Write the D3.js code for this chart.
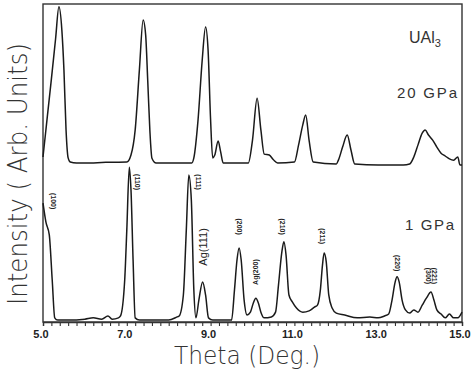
<!DOCTYPE html>
<html>
<head>
<meta charset="utf-8">
<script src="https://cdn.jsdelivr.net/npm/d3@7"></script>
<style>
  body { margin: 0; background: #fff; }
  svg { display: block; }
  .curve { fill: none; stroke: #1a1a1a; stroke-width: 1.5; stroke-linejoin: round; }
  .frame { fill: none; stroke: #333; stroke-width: 1.4; }
</style>
</head>
<body>
<svg id="chart" width="474" height="372"></svg>
<script>
// 20 GPa pattern: [theta, intensity (arb.)]
const highPressure = [
  [5.0, 51.9], [5.1, 64.2], [5.2, 76.4], [5.3, 89.0], [5.38, 99.1], [5.45, 91.8],
  [5.5, 79.2], [5.55, 60.4], [5.6, 51.6], [5.65, 50.3], [5.8, 50.0], [6.0, 50.0],
  [6.5, 50.2], [7.0, 50.3], [7.1, 52.5], [7.2, 60.4], [7.3, 79.2], [7.39, 95.0],
  [7.45, 90.3], [7.5, 75.8], [7.55, 60.4], [7.6, 51.5], [7.7, 50.0], [8.0, 50.0],
  [8.55, 50.0], [8.6, 51.6], [8.7, 63.5], [8.8, 82.4], [8.88, 92.8], [8.94, 85.5],
  [9.0, 63.5], [9.05, 51.6], [9.1, 52.5], [9.18, 56.9], [9.24, 53.5], [9.3, 50.0],
  [9.8, 50.0], [9.9, 50.0], [10.0, 57.2], [10.11, 70.4], [10.2, 60.4], [10.28, 52.8],
  [10.4, 52.5], [10.5, 51.0], [10.6, 50.0], [11.0, 50.3], [11.1, 55.7], [11.2, 62.0],
  [11.27, 65.1], [11.35, 57.2], [11.45, 50.3], [12.0, 49.7], [12.05, 50.9], [12.15, 55.0],
  [12.26, 58.8], [12.35, 54.1], [12.44, 49.7], [13.0, 49.4], [13.6, 49.4], [13.75, 49.7],
  [13.85, 51.9], [13.95, 55.7], [14.05, 59.4], [14.12, 60.4], [14.2, 58.8], [14.3, 57.2],
  [14.4, 55.0], [14.5, 53.1], [14.6, 52.2], [14.7, 51.3], [14.8, 50.9], [14.9, 51.9],
  [14.95, 49.4], [15.0, 49.4]
];

// 1 GPa pattern
const lowPressure = [
  [5.0, 37.4], [5.07, 31.4], [5.15, 27.4], [5.22, 13.2], [5.28, 1.3], [5.35, 0.6],
  [5.6, 0.6], [6.0, 0.9], [6.2, 1.3], [6.4, 0.9], [6.55, 1.9], [6.65, 0.9],
  [6.8, 1.3], [6.85, 1.9], [6.95, 13.2], [7.0, 28.9], [7.06, 48.7], [7.1, 41.5],
  [7.15, 19.5], [7.2, 1.3], [7.3, 0.6], [8.0, 0.6], [8.2, 1.6], [8.25, 1.9],
  [8.35, 8.5], [8.42, 28.9], [8.48, 46.2], [8.54, 38.4], [8.6, 10.1], [8.65, 1.3],
  [8.72, 6.9], [8.81, 12.6], [8.88, 8.5], [8.95, 1.3], [9.05, 0.6], [9.4, 0.6],
  [9.5, 0.6], [9.57, 10.1], [9.63, 19.5], [9.68, 23.3], [9.73, 19.5], [9.8, 6.9],
  [9.87, 2.2], [9.95, 3.1], [10.02, 6.0], [10.08, 7.5], [10.14, 6.0], [10.2, 3.1],
  [10.28, 1.3], [10.45, 1.6], [10.55, 3.1], [10.62, 11.6], [10.7, 22.0], [10.75, 25.2],
  [10.8, 21.1], [10.87, 8.5], [10.95, 6.3], [11.05, 4.4], [11.2, 3.1], [11.35, 3.5],
  [11.48, 4.7], [11.55, 5.3], [11.62, 10.1], [11.67, 17.9], [11.71, 21.7], [11.76, 18.9],
  [11.82, 8.5], [11.9, 4.4], [12.0, 2.8], [12.2, 2.2], [12.5, 1.3], [12.8, 1.6],
  [13.0, 1.3], [13.15, 1.9], [13.25, 2.5], [13.33, 6.9], [13.4, 12.3], [13.45, 14.2],
  [13.5, 12.6], [13.57, 6.9], [13.65, 3.8], [13.75, 2.8], [13.85, 3.8], [13.95, 3.1],
  [14.05, 5.3], [14.15, 7.5], [14.26, 9.4], [14.33, 6.9], [14.4, 3.8], [14.5, 2.5],
  [14.6, 1.3], [14.7, 2.5], [14.8, 1.3], [14.9, 1.3], [15.0, 3.1]
];

// reflection labels: [text, theta, intensity, rotation]
const peakLabels = [
  ["(100)", 5.26, 38.0, 90],
  ["(110)", 7.26, 44.0, 90],
  ["(111)", 8.71, 44.0, 90],
  ["(200)", 9.68, 30.0, 90],
  ["(210)", 10.72, 30.0, 90],
  ["(211)", 11.68, 27.0, 90],
  ["(220)", 13.45, 18.5, 90],
  ["(300)", 14.2, 14.5, 90],
  ["(221)", 14.35, 14.5, 90]
];
const silverLabels = [
  ["Ag(111)", 8.83, 23.6],
  ["Ag(200)", 10.08, 15.7]
];

const xTickLabels = [5.0, 7.0, 9.0, 11.0, 13.0, 15.0];

const svg = d3.select('#chart');
const margin = { left: 43, right: 12, top: 4, bottom: 50 };
const W = 474, H = 372;

const x = d3.scaleLinear().domain([5, 15]).range([margin.left, W - margin.right]);
const y = d3.scaleLinear().domain([0, 100]).range([H - margin.bottom, margin.top]);

// frame
svg.append('rect')
  .attr('class', 'frame')
  .attr('x', x(5)).attr('y', y(100))
  .attr('width', x(15) - x(5)).attr('height', y(0) - y(100));

// bottom axis, ticks every 0.2 pointing down
const xAxis = d3.axisBottom(x)
  .tickValues(d3.range(5, 15.01, 0.2))
  .tickSize(4)
  .tickFormat('');
const gx = svg.append('g')
  .attr('transform', `translate(0,${y(0)})`)
  .call(xAxis);
gx.select('.domain').attr('stroke', '#333').attr('stroke-width', 1.4);
gx.selectAll('.tick line').attr('stroke', '#333').attr('stroke-width', 1.1);

svg.append('g').selectAll('text')
  .data(xTickLabels)
  .join('text')
  .attr('x', d => x(d) - 2)
  .attr('y', y(0) + 16)
  .attr('text-anchor', 'middle')
  .attr('font-family', 'Liberation Sans, Arial, sans-serif')
  .attr('font-weight', 'bold')
  .attr('font-size', 11)
  .attr('fill', '#222')
  .text(d => d.toFixed(1));

// axis titles
svg.append('text')
  .attr('x', 174).attr('y', 364)
  .attr('font-family', 'DejaVu Sans, sans-serif')
  .attr('font-weight', 300)
  .attr('font-size', 24)
  .attr('textLength', 146)
  .attr('lengthAdjust', 'spacingAndGlyphs')
  .attr('fill', '#333')
  .text('Theta (Deg.)');

svg.append('text')
  .attr('transform', 'translate(27,305) rotate(-90)')
  .attr('font-family', 'DejaVu Sans, sans-serif')
  .attr('font-weight', 300)
  .attr('font-size', 26)
  .attr('textLength', 262)
  .attr('lengthAdjust', 'spacingAndGlyphs')
  .attr('fill', '#333')
  .text('Intensity ( Arb. Units)');

// curves
const line = d3.line().x(d => x(d[0])).y(d => y(d[1])).curve(d3.curveMonotoneX);
svg.append('path').attr('class', 'curve').attr('d', line(highPressure));
svg.append('path').attr('class', 'curve').attr('d', line(lowPressure));

// annotations
const title = svg.append('text')
  .attr('x', 409).attr('y', 43)
  .attr('font-family', 'Liberation Sans, Arial, sans-serif')
  .attr('font-size', 16)
  .attr('fill', '#333')
  .text('UAl');
title.append('tspan').attr('dy', 4).attr('font-size', 11).text('3');

svg.append('text')
  .attr('x', 397).attr('y', 98)
  .attr('font-family', 'Liberation Sans, Arial, sans-serif')
  .attr('font-size', 15)
  .attr('fill', '#333')
  .attr('textLength', 60)
  .text('20  GPa');

svg.append('text')
  .attr('x', 405).attr('y', 230)
  .attr('font-family', 'Liberation Sans, Arial, sans-serif')
  .attr('font-size', 15)
  .attr('fill', '#333')
  .attr('textLength', 49)
  .text('1  GPa');

svg.append('g').selectAll('text')
  .data(peakLabels)
  .join('text')
  .attr('transform', d => `translate(${x(d[1])},${y(d[2])}) rotate(${d[3]})`)
  .attr('text-anchor', 'middle')
  .attr('dy', '0.35em')
  .attr('font-family', 'Liberation Sans, Arial, sans-serif')
  .attr('font-weight', 'bold')
  .attr('font-size', 7)
  .attr('fill', '#222')
  .text(d => d[0]);

svg.append('g').selectAll('text')
  .data(silverLabels)
  .join('text')
  .attr('transform', (d, i) => `translate(${x(d[1])},${y(d[2])}) rotate(-90)`)
  .attr('text-anchor', 'middle')
  .attr('dy', '0.35em')
  .attr('font-family', 'Liberation Sans, Arial, sans-serif')
  .attr('font-size', (d, i) => i === 0 ? 11 : 7)
  .attr('font-weight', (d, i) => i === 0 ? 'normal' : 'bold')
  .attr('fill', '#222')
  .text(d => d[0]);
</script>
</body>
</html>
